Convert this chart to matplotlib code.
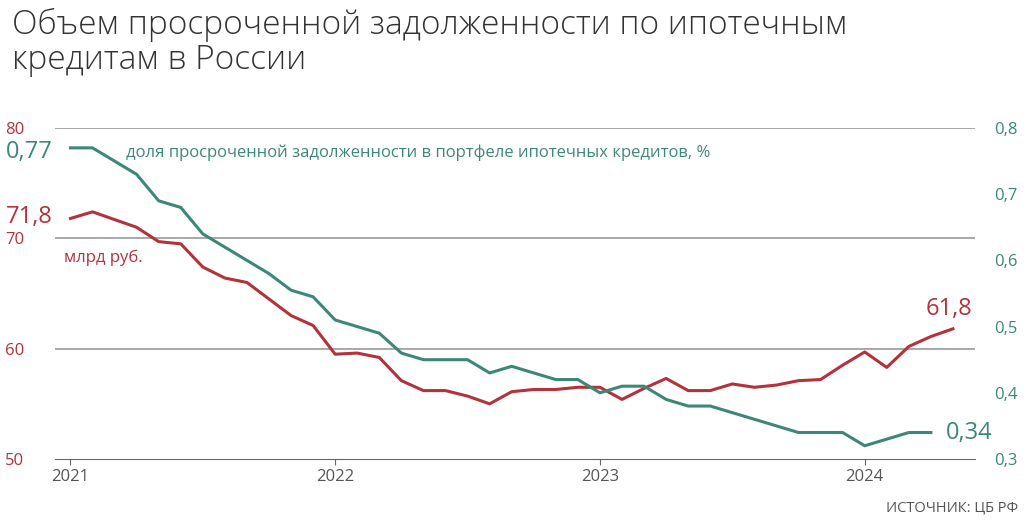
import matplotlib
matplotlib.use("Agg")
import matplotlib.pyplot as plt

# ── data (monthly, from Jan 2021) ─────────────────────────────
debt_bln = [71.8, 72.4, 71.7, 71.0, 69.7, 69.5, 67.4, 66.4, 66.0, 64.5, 63.0, 62.1,
            59.5, 59.6, 59.2, 57.1, 56.2, 56.2, 55.7, 55.0, 56.1, 56.3, 56.3, 56.5,
            56.5, 55.4, 56.4, 57.3, 56.2, 56.2, 56.8, 56.5, 56.7, 57.1, 57.2, 58.5,
            59.7, 58.3, 60.2, 61.1, 61.8]
share_pct = [0.77, 0.77, 0.75, 0.73, 0.69, 0.68, 0.64, 0.62, 0.60, 0.58, 0.555, 0.545,
             0.51, 0.50, 0.49, 0.46, 0.45, 0.45, 0.45, 0.43, 0.44, 0.43, 0.42, 0.42,
             0.40, 0.41, 0.41, 0.39, 0.38, 0.38, 0.37, 0.36, 0.35, 0.34, 0.34, 0.34,
             0.32, 0.33, 0.34, 0.34]
year_labels = ["2021", "2022", "2023", "2024"]
left_ticks = [50, 60, 70, 80]
right_ticks = [0.3, 0.4, 0.5, 0.6, 0.7, 0.8]

RED = "#b3323b"
GREEN = "#3d8779"
GREY = "#555555"
plt.rcParams["font.family"] = "Open Sans"

fig = plt.figure(figsize=(10.28, 5.24), dpi=100)
ax = fig.add_axes([55 / 1028, 1 - 459 / 524, 920 / 1028, 331 / 524])
ax2 = ax.twinx()

ax.plot(range(len(debt_bln)), debt_bln, color=RED, lw=2.2, zorder=3)
ax2.plot(range(len(share_pct)), share_pct, color=GREEN, lw=2.2, zorder=3)

ax.set_xlim(-0.7, 41)
ax.set_ylim(50, 80)
ax2.set_ylim(0.3, 0.8)
ax.set_yticks(left_ticks)
ax2.set_yticks(right_ticks)
ax2.set_yticklabels([f"{v:.1f}".replace(".", ",") for v in right_ticks])
ax.set_xticks([0, 12, 24, 36])
ax.set_xticklabels(year_labels)

for y in left_ticks[1:]:
    ax.axhline(y, color="#999999", lw=1.2, zorder=1)
for a in (ax, ax2):
    for s in a.spines.values():
        s.set_visible(False)
ax.spines["bottom"].set_visible(True)
ax.spines["bottom"].set_color("#666666")
ax.tick_params(axis="y", colors=RED, labelsize=12, length=0, pad=22)
ax2.tick_params(axis="y", colors=GREEN, labelsize=12, length=0, pad=14)
ax.tick_params(axis="x", colors=GREY, labelsize=12, length=4, color="#666666")

# value labels
ax.text(-0.8, debt_bln[0] + 0.1, "71,8", color=RED, fontsize=17, ha="right", va="center")
ax.text(-0.3, 69.0, "млрд руб.", color=RED, fontsize=12, ha="left", va="top")
ax.text(len(debt_bln) - 1.2, debt_bln[-1] + 0.7, "61,8", color=RED, fontsize=17, ha="center", va="bottom")
ax2.text(-0.8, share_pct[0] - 0.007, "0,77", color=GREEN, fontsize=17, ha="right", va="center")
ax2.text(2.5, share_pct[0] - 0.007, "доля просроченной задолженности в портфеле ипотечных кредитов, %",
         color=GREEN, fontsize=12, ha="left", va="center")
ax2.text(len(share_pct) - 0.3, share_pct[-1], "0,34", color=GREEN, fontsize=17, ha="left", va="center")

fig.text(12 / 1028, 1 - 8 / 524, "Объем просроченной задолженности по ипотечным\nкредитам в России",
         fontsize=24, color="#333333", ha="left", va="top", fontweight="light", linespacing=1.05)
fig.text(1018 / 1028, 1 - 508 / 524, "ИСТОЧНИК: ЦБ РФ", fontsize=10.5, color=GREY, ha="right", va="center")

fig.savefig("out.png", dpi=100, facecolor="white")
